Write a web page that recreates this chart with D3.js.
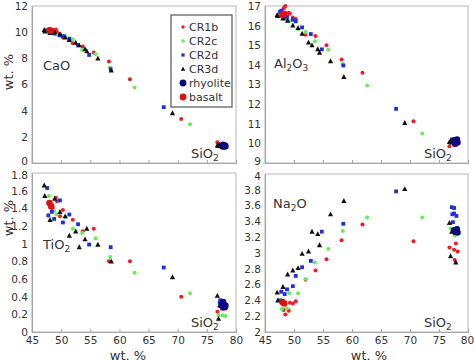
<!DOCTYPE html>
<html>
<head>
<meta charset="utf-8">
<script src="https://cdn.jsdelivr.net/npm/d3@7"></script>
<style>
  body { margin: 0; background: #fff; }
  text { font-family: "DejaVu Sans", Verdana, sans-serif; fill: #333; }
</style>
</head>
<body>
<svg width="474" height="362"></svg>
<script>
// columns: SiO2, CaO, Al2O3, TiO2, Na2O  (wt. %)
var cr1b = [
    [48.2, 10.1, 16.88, 1.42, 2.28], [48.5, 10.05, 17.0, 1.40, 2.22],
    [49.1, 10.2, 16.66, 1.52, 2.27], [49.3, 10.0, 16.6, 1.48, 2.37],
    [49.8, 9.85, 16.42, 1.31, 2.36], [50.3, 9.6, 16.34, 1.38, 2.39],
    [52.0, 9.15, 15.54, 1.27, 2.66], [53.7, 8.9, 15.47, 1.14, 2.78],
    [55.6, 8.44, 15.0, 1.17, 2.92], [58.2, 7.75, 14.28, 0.80, 3.16],
    [61.8, 6.4, 13.6, 0.80, 3.36], [70.6, 3.36, 11.13, 0.40, 3.15],
    [76.8, 1.58, 9.85, 0.23, 3.07], [77.9, 1.35, 9.9, 0.35, 3.12],
    [77.6, 1.3, 9.95, 0.30, 3.04], [78.2, 1.25, 10.0, 0.29, 3.02],
    [77.7, 1.3, 9.9, 0.26, 2.91]
];
var cr2c = [
    [47.9, 9.95, 16.45, 1.54, 2.29], [48.8, 9.9, 16.3, 1.37, 2.30],
    [49.2, 9.8, 16.25, 1.33, 2.49], [50.7, 9.7, 15.8, 1.30, 2.49],
    [52.0, 9.46, 15.67, 1.17, 2.67], [53.6, 8.64, 15.2, 1.12, 2.88],
    [55.9, 8.34, 14.77, 1.06, 3.05], [58.4, 7.3, 14.05, 0.85, 3.28],
    [62.6, 5.77, 12.95, 0.67, 3.45], [72.1, 2.97, 10.5, 0.44, 3.45],
    [77.0, 1.3, 10.1, 0.19, 3.31], [77.7, 1.25, 10.15, 0.19, 3.22],
    [78.2, 1.3, 10.1, 0.18, 3.31]
];
var cr2d = [
    [47.6, 10.15, 16.7, 1.63, 2.40], [47.8, 10.1, 16.76, 1.32, 2.51],
    [48.4, 9.95, 16.4, 1.36, 2.48], [48.8, 9.9, 16.45, 1.28, 2.54],
    [49.8, 9.75, 16.3, 1.49, 2.58], [50.3, 9.7, 16.22, 1.24, 2.71],
    [51.4, 9.5, 15.91, 1.33, 2.82], [52.9, 9.0, 15.57, 1.22, 2.90],
    [54.8, 8.26, 14.79, 0.99, 3.27], [58.5, 7.17, 13.97, 0.96, 3.37],
    [67.6, 4.27, 11.76, 0.73, 3.78],
    [77.2, 1.35, 10.2, 0.33, 3.58], [77.6, 1.3, 10.15, 0.30, 3.57],
    [77.3, 1.4, 10.1, 0.36, 3.49], [77.6, 1.25, 10.2, 0.27, 3.50],
    [78.0, 1.3, 10.1, 0.31, 3.47], [77.4, 1.35, 10.05, 0.29, 3.39]
];
var cr3d = [
    [47.1, 10.17, 16.55, 1.66, 2.50], [47.2, 10.05, 16.5, 1.54, 2.40],
    [48.1, 9.95, 16.37, 1.27, 2.57], [48.9, 10.0, 16.25, 1.51, 2.73],
    [49.8, 9.84, 16.01, 1.36, 2.78], [50.7, 9.6, 15.88, 1.31, 2.81],
    [51.4, 9.4, 15.59, 1.09, 2.99], [52.5, 9.2, 15.14, 1.14, 3.02],
    [53.1, 9.0, 15.0, 0.96, 3.27], [54.1, 8.7, 14.8, 1.05, 3.24],
    [54.4, 8.55, 14.62, 1.17, 3.10], [56.3, 8.0, 14.19, 0.99, 3.49],
    [58.6, 7.07, 13.39, 0.80, 3.66], [69.1, 3.81, 11.04, 0.62, 3.81],
    [76.8, 1.35, 10.07, 0.41, 3.38], [77.0, 1.3, 10.1, 0.15, 2.96],
    [77.2, 1.4, 10.05, 0.30, 3.27], [77.8, 1.3, 10.15, 0.28, 3.26],
    [77.9, 1.25, 10.1, 0.32, 2.88]
];
var rhyolite = [
    [77.6, 1.3, 10.15, 0.32, 3.29], [77.9, 1.25, 10.1, 0.30, 3.28],
    [78.1, 1.35, 10.2, 0.28, 3.30], [77.8, 1.4, 10.0, 0.34, 3.27],
    [78.2, 1.28, 10.05, 0.30, 3.26]
];
var basalt = [
    [48.0, 10.15, 16.55, 1.46, 2.38], [48.3, 10.1, 16.6, 1.42, 2.36]
];

var seriesNames = ["CR1b", "CR2c", "CR2d", "CR3d", "rhyolite", "basalt"];
var seriesRows = [cr1b, cr2c, cr2d, cr3d, rhyolite, basalt];

var xTicks = [45, 50, 55, 60, 65, 70, 75, 80];

var svg = d3.select("svg");

var styles = {
    "CR1b": { shape: "circle", r: 2.0, color: "#ee1c24" },
    "CR2c": { shape: "circle", r: 2.0, color: "#66ee55" },
    "CR2d": { shape: "square", r: 1.9, color: "#1f2fe0" },
    "CR3d": { shape: "triangle", r: 2.6, color: "#111" },
    "rhyolite": { shape: "circle", r: 3.2, color: "#0a0a80" },
    "basalt": { shape: "circle", r: 3.3, color: "#dd1111" }
};

var panels = [
    { col: 1, name: "Ca", sub: "", rest: "O", left: 32, right: 236, top: 6, bottom: 163, domain: [0, 12], step: 2, xLabels: false, lab: [43, 70] },
    { col: 2, name: "Al", sub: "2", rest: "O3", left: 265, right: 468, top: 6, bottom: 163, domain: [9, 17], step: 1, xLabels: false, lab: [274, 68] },
    { col: 3, name: "Ti", sub: "", rest: "O2", left: 32, right: 236, top: 173, bottom: 332, domain: [0, 1.8], step: 0.2, xLabels: true, lab: [43, 249] },
    { col: 4, name: "Na", sub: "2", rest: "O", left: 265, right: 468, top: 174, bottom: 332, domain: [2, 4], step: 0.2, xLabels: true, lab: [273, 208] }
];

function marker(sel, st) {
    sel.each(function () {
        var g = d3.select(this);
        if (st.shape === "circle") {
            g.append("circle").attr("r", st.r).attr("fill", st.color);
        } else if (st.shape === "square") {
            g.append("rect").attr("x", -st.r).attr("y", -st.r)
                .attr("width", st.r * 2).attr("height", st.r * 2).attr("fill", st.color);
        } else {
            var s = st.r;
            g.append("path").attr("d", "M0," + (-s * 1.1) + "L" + s + "," + (s * 0.8) + "L" + (-s) + "," + (s * 0.8) + "Z")
                .attr("fill", st.color);
        }
    });
}

function fmt(v) {
    return String(+v.toFixed(1));
}

panels.forEach(function (p) {
    var x = d3.scaleLinear().domain([45, 80]).range([p.left, p.right]);
    var y = d3.scaleLinear().domain(p.domain).range([p.bottom, p.top]);
    var g = svg.append("g");

    var yTicks = d3.range(p.domain[0], p.domain[1] + p.step / 2, p.step).map(function (v) { return +v.toFixed(1); });

    g.append("rect")
        .attr("x", p.left).attr("y", p.top)
        .attr("width", p.right - p.left).attr("height", p.bottom - p.top)
        .attr("fill", "none").attr("stroke", "#c4c4c4").attr("stroke-width", 1.2);

    var xAxis = g.append("g")
        .attr("transform", "translate(0," + p.bottom + ")")
        .call(d3.axisBottom(x).tickValues(xTicks).tickSize(-3).tickPadding(5)
            .tickFormat(p.xLabels ? d3.format("d") : ""));
    var yAxis = g.append("g")
        .attr("transform", "translate(" + p.left + ",0)")
        .call(d3.axisLeft(y).tickValues(yTicks).tickSize(0).tickPadding(4).tickFormat(fmt));

    [xAxis, yAxis].forEach(function (a) {
        a.select(".domain").attr("stroke", "#a8a8a8").attr("stroke-width", 1.2);
        a.selectAll(".tick line").attr("stroke", "#a8a8a8");
        a.selectAll("text").attr("font-size", 10.5).attr("fill", "#333")
            .attr("font-family", "'DejaVu Sans', Verdana, sans-serif");
    });

    // keep the stacked end labels ("0" above "1.8") and the last "80" clear of each other / the edge
    yAxis.selectAll(".tick text").filter(function (d) { return d === p.domain[0] && p.col <= 2; }).attr("dy", "0.1em");
    yAxis.selectAll(".tick text").filter(function (d) { return d === p.domain[1] && p.col >= 3; }).attr("dy", "0.5em");
    if (p.col === 4) xAxis.selectAll(".tick text").filter(function (d) { return d === 80; }).attr("dx", -1);

    // points
    seriesNames.forEach(function (name, i) {
        g.append("g").selectAll("g")
            .data(seriesRows[i])
            .join("g")
            .attr("transform", function (d) { return "translate(" + x(d[0]) + "," + y(d[p.col]) + ")"; })
            .call(marker, styles[name]);
    });

    // oxide label
    var t = g.append("text").attr("x", p.lab[0]).attr("y", p.lab[1]).attr("font-size", 13);
    t.append("tspan").text(p.name);
    if (p.sub) t.append("tspan").attr("font-size", 9).attr("dy", 3).text(p.sub);
    if (p.rest.length > 1) {
        t.append("tspan").attr("dy", p.sub ? -3 : 0).text(p.rest[0]);
        t.append("tspan").attr("font-size", 9).attr("dy", 3).text(p.rest.slice(1));
    } else {
        t.append("tspan").attr("dy", p.sub ? -3 : 0).text(p.rest);
    }

    // SiO2 label
    var s = g.append("text").attr("x", p.left + 159).attr("y", p.bottom - 5).attr("font-size", 13);
    s.append("tspan").text("SiO");
    s.append("tspan").attr("font-size", 9).attr("dy", 3).text("2");
});

// axis titles
[72, 218].forEach(function (cy) {
    svg.append("text")
        .attr("transform", "translate(13," + cy + ") rotate(-90)")
        .attr("text-anchor", "middle").attr("font-size", 13).text("wt. %");
});
[128, 369].forEach(function (cx) {
    svg.append("text")
        .attr("x", cx).attr("y", 360)
        .attr("text-anchor", "middle").attr("font-size", 13).text("wt. %");
});

// legend
var legend = svg.append("g");
legend.append("rect")
    .attr("x", 171).attr("y", 15).attr("width", 61).attr("height", 92)
    .attr("fill", "#fff").attr("stroke", "#555").attr("stroke-width", 1.2);
var rowY = d3.scalePoint().domain(seriesNames).range([27, 97]);
seriesNames.forEach(function (name) {
    var st = styles[name];
    var legSt = { shape: st.shape, color: st.color, r: name === "rhyolite" || name === "basalt" ? 3.4 : st.r * 0.85 };
    legend.append("g").attr("transform", "translate(183," + rowY(name) + ")").call(marker, legSt);
    legend.append("text").attr("x", 189).attr("y", rowY(name) + 4)
        .attr("font-size", 11).text(name);
});
</script>
</body>
</html>
